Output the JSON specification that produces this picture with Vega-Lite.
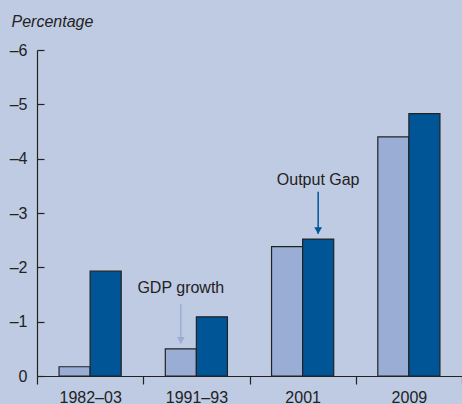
{
  "$schema": "https://vega.github.io/schema/vega-lite/v6.json",
  "width": 425,
  "height": 326,
  "autosize": {"type": "none"},
  "padding": {"left": 37, "top": 50, "right": 0, "bottom": 28},
  "background": "#bfcbe3",
  "config": {
    "view": {"stroke": null},
    "font": "Liberation Sans",
    "axis": {"labelFont": "Liberation Sans", "titleFont": "Liberation Sans"}
  },
  "datasets": {
    "bars": [
      {"period": "1982–03", "series": "GDP growth", "value": -0.17},
      {"period": "1982–03", "series": "Output Gap", "value": -1.93},
      {"period": "1991–93", "series": "GDP growth", "value": -0.5},
      {"period": "1991–93", "series": "Output Gap", "value": -1.09},
      {"period": "2001", "series": "GDP growth", "value": -2.38},
      {"period": "2001", "series": "Output Gap", "value": -2.52},
      {"period": "2009", "series": "GDP growth", "value": -4.4},
      {"period": "2009", "series": "Output Gap", "value": -4.83}
    ],
    "notes": [
      {"period": "1991–93", "series": "GDP growth", "label": "GDP growth", "ty": -1.62, "y1": -1.32, "y2": -0.6, "tip": -0.6},
      {"period": "2001", "series": "Output Gap", "label": "Output Gap", "ty": -3.61, "y1": -3.39, "y2": -2.62, "tip": -2.62}
    ]
  },
  "encoding": {
    "x": {
      "field": "period",
      "type": "nominal",
      "sort": null,
      "scale": {"domain": ["1982–03", "1991–93", "2001", "2009"], "paddingInner": 0, "paddingOuter": 0},
      "axis": {
        "title": null,
        "labelAngle": 0,
        "tickBand": "extent",
        "labelFontSize": 16,
        "labelColor": "#222222",
        "labelPadding": 5,
        "tickSize": 8,
        "tickColor": "#222222",
        "tickWidth": 1.2,
        "domainColor": "#222222",
        "domainWidth": 1.2
      }
    },
    "xOffset": {
      "field": "series",
      "type": "nominal",
      "scale": {"domain": ["GDP growth", "Output Gap"], "paddingInner": 0, "paddingOuter": 0.71}
    }
  },
  "layer": [
    {
      "data": {"name": "bars"},
      "mark": {"type": "bar", "stroke": "#222222", "strokeWidth": 1.2},
      "encoding": {
        "y": {
          "field": "value",
          "type": "quantitative",
          "scale": {"domain": [-6, 0], "reverse": true, "nice": false},
          "axis": {
            "title": "Percentage",
            "titleAngle": 0,
            "titleAlign": "left",
            "titleBaseline": "alphabetic",
            "titleX": -26,
            "titleY": -24,
            "titleFontSize": 16,
            "titleFontStyle": "italic",
            "titleFontWeight": "normal",
            "titleColor": "#222222",
            "values": [-6, -5, -4, -3, -2, -1, 0],
            "labelExpr": "datum.value < 0 ? '–' + abs(datum.value) : '' + datum.value",
            "grid": false,
            "tickSize": -7,
            "tickColor": "#222222",
            "tickWidth": 1.2,
            "domainColor": "#222222",
            "domainWidth": 1.2,
            "labelFontSize": 16,
            "labelColor": "#222222",
            "labelPadding": 17
          }
        },
        "color": {
          "field": "series",
          "type": "nominal",
          "scale": {"domain": ["GDP growth", "Output Gap"], "range": ["#9aaed5", "#005596"]},
          "legend": null
        }
      }
    },
    {
      "data": {"name": "notes"},
      "mark": {"type": "rule", "strokeWidth": 1.5},
      "encoding": {
        "y": {"field": "y1", "type": "quantitative"},
        "y2": {"field": "y2"},
        "color": {"field": "series", "type": "nominal", "legend": null}
      }
    },
    {
      "data": {"name": "notes"},
      "mark": {"type": "point", "shape": "triangle-down", "filled": true, "size": 60, "opacity": 1, "yOffset": -3},
      "encoding": {
        "y": {"field": "tip", "type": "quantitative"},
        "color": {"field": "series", "type": "nominal", "legend": null}
      }
    },
    {
      "data": {"name": "notes"},
      "mark": {"type": "text", "fontSize": 16, "color": "#222222", "baseline": "middle"},
      "encoding": {
        "y": {"field": "ty", "type": "quantitative"},
        "text": {"field": "label"}
      }
    }
  ]
}
